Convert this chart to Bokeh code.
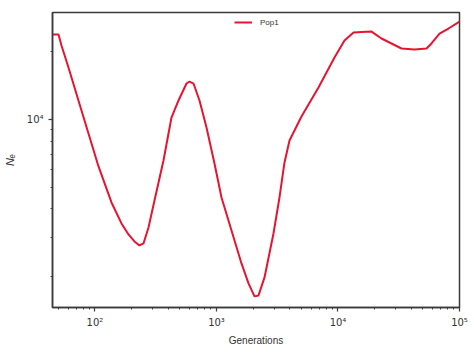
from bokeh.plotting import figure
from bokeh.models import FixedTicker, CustomJSTickFormatter, Range1d
from bokeh.embed import file_html
from bokeh.resources import INLINE

# Generations (x) and effective population size (y)
generations = [44.7, 50.1, 53.0, 60.5, 73.1, 88.4, 106.9, 136.7, 165.2, 188.7,
               211.4, 232.4, 250.7, 275.6, 308.8, 366.2, 426.2, 486.7, 566.4, 599.6,
               646.8, 724.7, 827.5, 962.7, 1099.6, 1329, 1606, 1834, 2055, 2217,
               2484, 2945, 3300, 3628, 3990, 4553, 5006, 6910, 9358, 11310,
               13420, 15610, 18870, 22800, 27560, 33310, 42620, 53500, 58820, 68450,
               81200, 100000]
ne = [23870, 23870, 21320, 17020, 12150, 8665, 6182, 4277, 3450, 3083,
      2870, 2754, 2811, 3311, 4365, 6573, 10200, 12150, 14450, 14750,
      14450, 12150, 9214, 6374, 4500, 3211, 2291, 1867, 1635, 1651,
      1985, 3114, 4500, 6440, 8067, 9309, 10310, 13880, 18860, 22440,
      24360, 24480, 24600, 22910, 21770, 20680, 20470, 20680, 21770, 24110,
      25380, 27260]

x_major = [100, 1000, 10000, 100000]
x_minor = [50, 60, 70, 80, 90, 200, 300, 400, 500, 600, 700, 800, 900,
           2000, 3000, 4000, 5000, 6000, 7000, 8000, 9000,
           20000, 30000, 40000, 50000, 60000, 70000, 80000, 90000]
y_major = [10000]
y_minor = [2000, 3000, 4000, 5000, 6000, 7000, 8000, 9000, 20000]

series_name = "Pop1"
x_label = "Generations"
y_label = "N\u2091"

x_lo, x_hi = 44.7, 100000
y_lo, y_hi = 1459, 29900

FONT = "Liberation Sans"
TICKFONT = "DejaVu Sans"
AX = "#3a3a3a"

p = figure(x_axis_type="log", y_axis_type="log",
           frame_width=407, frame_height=295,
           min_border_left=51, min_border_right=16,
           min_border_top=12, min_border_bottom=46,
           output_backend="svg", toolbar_location=None,
           x_range=Range1d(x_lo, x_hi), y_range=Range1d(y_lo, y_hi))

p.line(generations, ne, line_color="#e8132f", line_width=2.0, legend_label=series_name)

p.xgrid.visible = False
p.ygrid.visible = False
p.outline_line_color = AX
p.outline_line_width = 1.5
p.background_fill_color = "white"
p.border_fill_color = "white"

fmt_code = """
const sup = {'0':'\u2070','1':'\u00b9','2':'\u00b2','3':'\u00b3','4':'\u2074','5':'\u2075','6':'\u2076','7':'\u2077','8':'\u2078','9':'\u2079'};
const e = Math.round(Math.log10(tick));
return '10' + String(e).split('').map(c => sup[c]).join('');
"""

p.xaxis.ticker = FixedTicker(ticks=x_major, minor_ticks=x_minor)
p.yaxis.ticker = FixedTicker(ticks=y_major, minor_ticks=y_minor)
for ax in (p.xaxis, p.yaxis):
    ax.formatter = CustomJSTickFormatter(code=fmt_code)
    ax.axis_line_color = AX
    ax.axis_line_width = 1.5
    ax.major_tick_line_color = AX
    ax.minor_tick_line_color = AX
    ax.major_tick_line_width = 1.2
    ax.minor_tick_line_width = 1
    ax.major_tick_out = 4
    ax.major_tick_in = 0
    ax.minor_tick_out = 2
    ax.minor_tick_in = 0
    ax.major_label_text_font = TICKFONT
    ax.major_label_text_font_size = "10px"
    ax.major_label_text_color = "#333333"
    ax.axis_label_text_font = FONT
    ax.axis_label_text_font_size = "10px"
    ax.axis_label_text_color = "#333333"
    ax.major_label_standoff = 5

p.xaxis.axis_label = x_label
p.xaxis.axis_label_standoff = 4
p.xaxis.axis_label_text_font_style = "normal"
p.yaxis.axis_label = y_label
p.yaxis.axis_label_standoff = 8
p.yaxis.axis_label_text_font_style = "italic"
p.yaxis.axis_label_text_font_size = "11px"

lg = p.legend[0]
lg.location = (182, 280)
lg.padding = 0
lg.margin = 0
lg.spacing = 0
lg.glyph_width = 18
lg.glyph_height = 10
lg.label_height = 10
lg.label_standoff = 8
lg.label_text_font = FONT
lg.label_text_font_size = "8px"
lg.label_text_color = "#333333"
lg.border_line_color = None
lg.background_fill_alpha = 0

open("out.html", "w").write(file_html(p, INLINE))
